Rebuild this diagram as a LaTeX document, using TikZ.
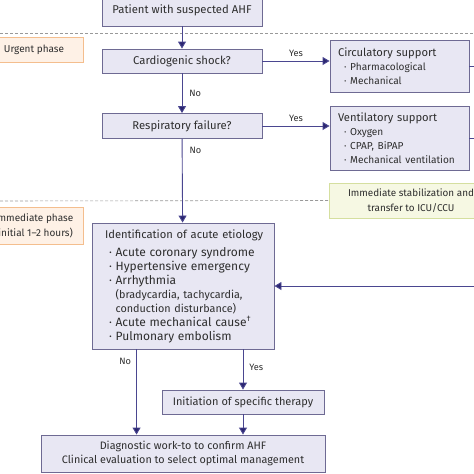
\documentclass[tikz,border=0pt]{standalone}
\usepackage{fontspec}
\setmainfont{Fira Sans}
\usetikzlibrary{arrows.meta}
\definecolor{boxfill}{HTML}{E8E7F3}
\definecolor{boxline}{HTML}{6E6A93}
\definecolor{arrline}{HTML}{4A4690}
\definecolor{arrtip}{HTML}{2B2670}
\definecolor{phasefill}{HTML}{FEF1E6}
\definecolor{phaseline}{HTML}{F4BE8E}
\definecolor{notefill}{HTML}{F6F8E3}
\definecolor{noteline}{HTML}{D5DF9F}
\definecolor{txt}{HTML}{2E2E2E}
\hyphenpenalty=10000
\exhyphenpenalty=10000
\newcommand{\bul}[1]{{\fontsize{10.1}{14}\selectfont\hspace*{6pt}· #1}}
\newcommand{\ebul}[1]{{\fontsize{12}{14}\selectfont\hspace*{9pt}· #1}}
\newcommand{\esub}[1]{{\fontsize{10.8}{14}\selectfont\hspace*{9pt}\phantom{\fontsize{12}{14}\selectfont· }#1}}
\begin{document}
\begin{tikzpicture}[x=1pt,y=-1pt,
  every node/.style={inner sep=0pt,text=txt,font=\fontsize{11.3}{14}\selectfont},
  box/.style={draw=boxline,fill=boxfill,line width=0.9pt},
  list/.style={box,align=left,font=\fontsize{#1}{14}\selectfont},
  phase/.style={draw=phaseline,fill=phasefill,line width=0.9pt,minimum width=98pt,align=center,font=\fontsize{10}{15}\selectfont},
  note/.style={draw=noteline,fill=notefill,line width=0.9pt,align=center,font=\fontsize{9.9}{15}\selectfont},
  arr/.style={draw=arrline,line width=0.9pt,-{Triangle[length=7pt,width=8pt,fill=arrtip]}},
  lbl/.style={font=\fontsize{9.2}{10}\selectfont},
  sep/.style={draw=black!40,dash pattern=on 3pt off 2pt,line width=0.6pt}]
\clip (0,0) rectangle (474,474);
\fill [white] (0,0) rectangle (474,474);
\node [box,minimum width=160pt,minimum height=31pt] (patient) at (182,10.5) {Patient with suspected AHF};
\node [box,minimum width=160pt,minimum height=24pt] (cardio) at (182,61) {Cardiogenic shock?};
\node [box,minimum width=160pt,minimum height=25pt] (resp) at (182,126) {Respiratory failure?};
\node [list=11.2,minimum width=139pt,minimum height=52pt,text width=123pt,inner xsep=8pt] (circ) at (399.5,66)
  {Circulatory support\\
   \bul{Pharmacological}\\
   \bul{Mechanical}};
\node [list=11.2,minimum width=139pt,minimum height=64pt,text width=123pt,inner xsep=8pt] (vent) at (399.5,138)
  {Ventilatory support\\
   \bul{Oxygen}\\
   \bul{CPAP, BiPAP}\\
   \bul{Mechanical ventilation}};
\node [note,minimum width=164pt,minimum height=35pt] (icu) at (411,200.5)
  {Immediate stabilization and\\transfer to ICU/CCU};
\node [phase,minimum height=25pt] (urgent) at (34,49.5) {Urgent phase};
\node [phase,minimum height=37pt] (immed) at (34,225.5)
  {Immediate phase\\(initial 1–2 hours)};
\node [list=11.2,minimum width=182pt,minimum height=126pt,text width=166pt,inner xsep=8pt] (ident) at (183,286)
  {\hspace*{5pt}Identification of acute etiology\\[4pt]
   \ebul{Acute coronary syndrome}\\
   \ebul{Hypertensive emergency}\\
   \ebul{Arrhythmia}\\
   \esub{(bradycardia, tachycardia,}\\
   \esub{conduction disturbance)}\\
   \ebul{Acute mechanical cause\textsuperscript{†}}\\
   \ebul{Pulmonary embolism}};
\node [box,minimum width=162pt,minimum height=24pt,font=\fontsize{11}{14}\selectfont] (therapy) at (243,402) {Initiation of specific therapy};
\node [box,minimum width=284pt,minimum height=37pt,align=center,font=\fontsize{10.8}{14}\selectfont] (diag) at (183,453.5)
  {Diagnostic work-to to confirm AHF\\Clinical evaluation to select optimal management};
\coordinate (rail) at (490,0);
\draw [sep] (0,33) -- (474,33);
\draw [sep] (0,201) -- (icu.west);
\draw [arr] (patient) -- (cardio);
\draw [arr] (cardio) -- node [lbl,right=7pt] {No} (resp);
\draw [arr] (cardio) -- node [lbl,above=4pt] {Yes} (circ.west |- cardio);
\draw [arr] (resp) -- node [lbl,above=4pt] {Yes} (vent.west |- resp);
\draw [arr] (resp) -- node [lbl,right=7pt,pos=0.14] {No} (ident);
\draw [arr] (circ.east) -- (circ.east -| rail) |- (ident.east);
\draw [draw=arrline,line width=0.9pt] (vent.east) -- (vent.east -| rail);
\draw [arr] (ident.south -| diag.north west) ++(96,0) coordinate (nostart) -- node [lbl,left=5pt,pos=0.14] {No} (nostart |- diag.north);
\draw [arr] (therapy.north |- ident.south) -- node [lbl,right=6pt,pos=0.44] {Yes} (therapy);
\draw [arr] (therapy) -- (therapy.south |- diag.north);
\end{tikzpicture}
\end{document}
